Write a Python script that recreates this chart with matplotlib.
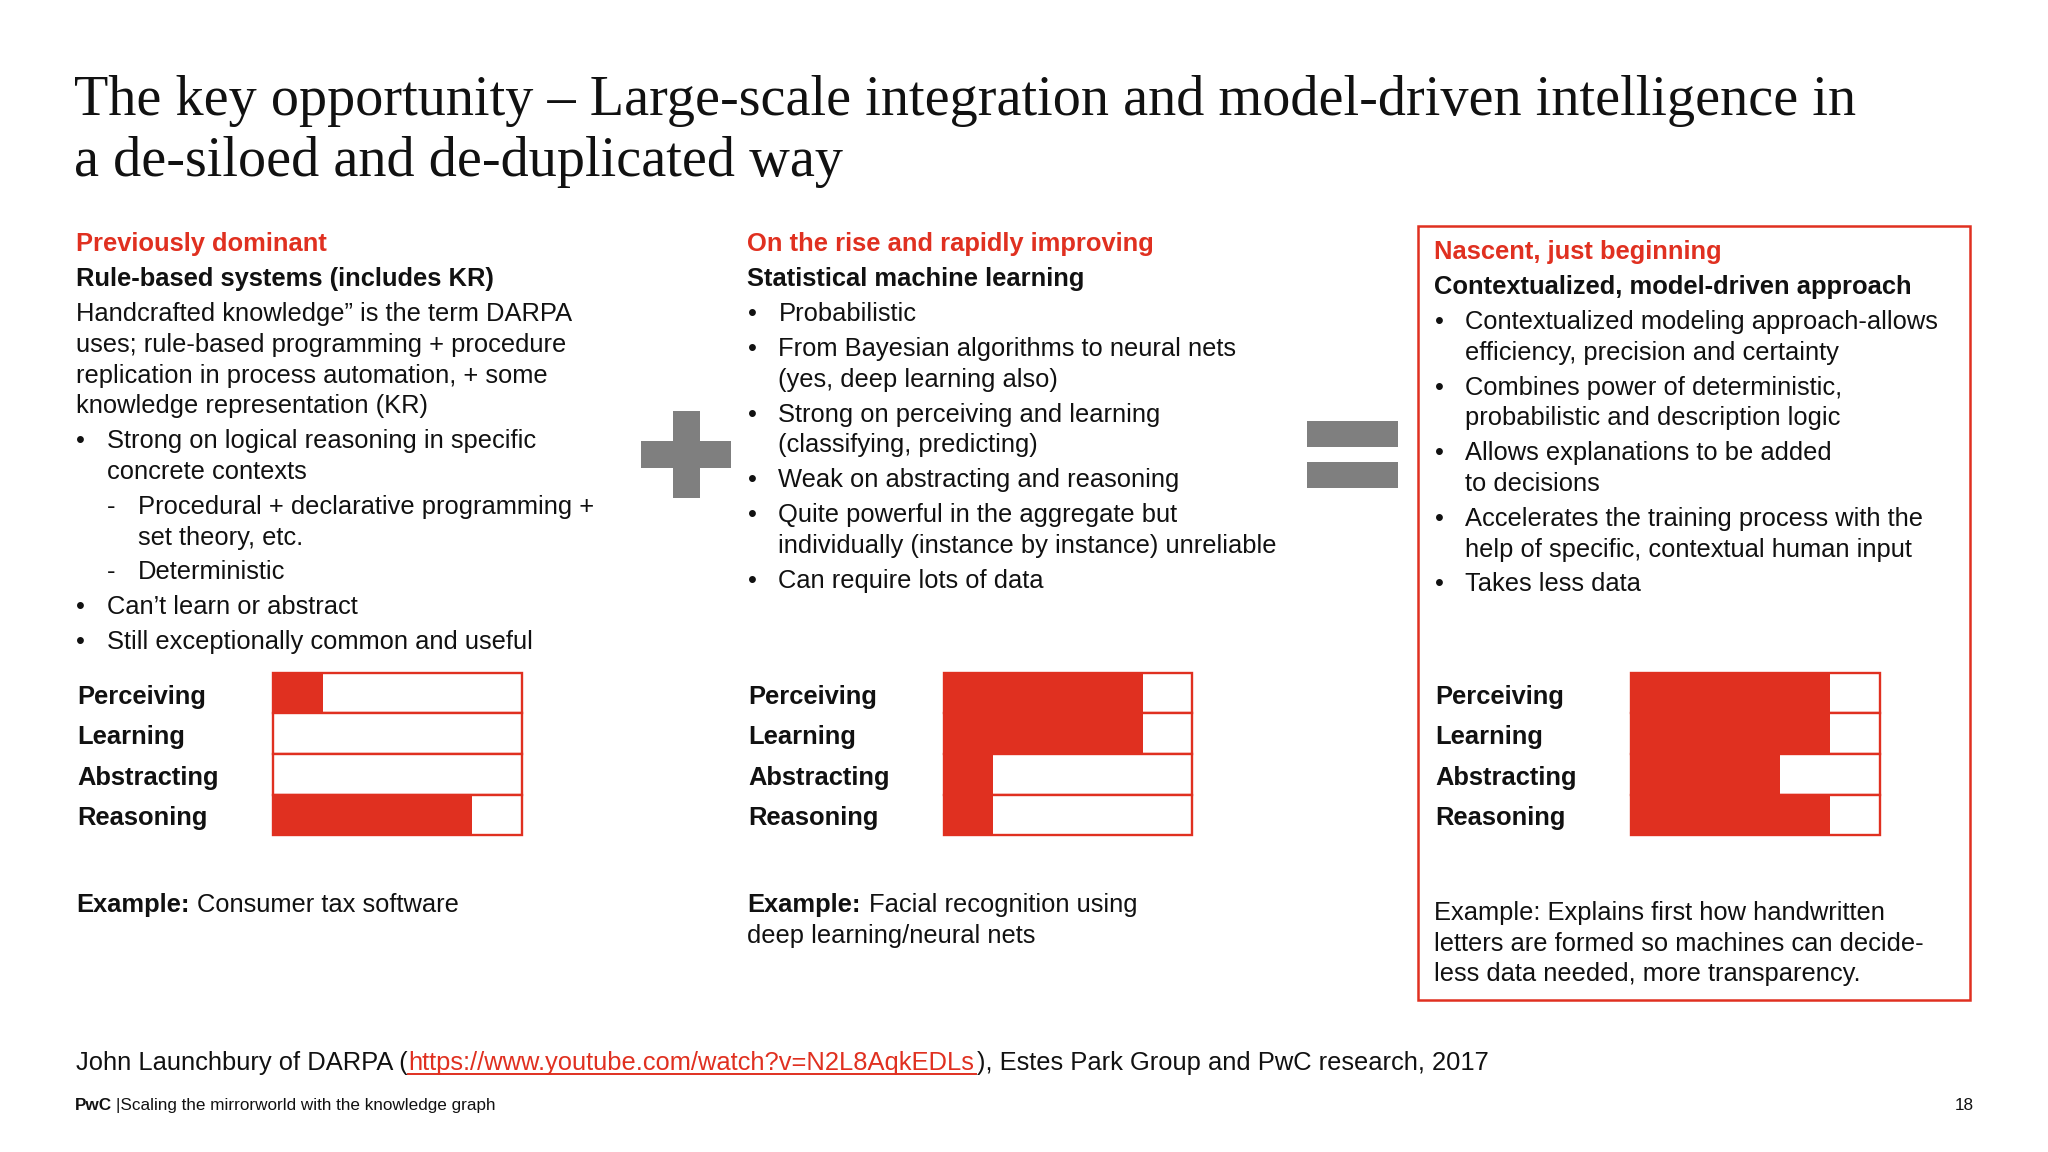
# PwC slide: three approaches to AI with progress bars
import matplotlib.pyplot as plt
from matplotlib.patches import Rectangle

RED = "#e03020"
GRAY = "#7f7f7f"
DARK = "#111111"

title_lines = ["The key opportunity – Large-scale integration and model-driven intelligence in",
               "a de-siloed and de-duplicated way"]

categories = ["Perceiving", "Learning", "Abstracting", "Reasoning"]
fill_rule = [0.2, 0.0, 0.0, 0.8]
fill_stat = [0.8, 0.8, 0.2, 0.2]
fill_model = [0.8, 0.8, 0.6, 0.8]

heads = ["Previously dominant", "On the rise and rapidly improving", "Nascent, just beginning"]
subs = ["Rule-based systems (includes KR)", "Statistical machine learning",
        "Contextualized, model-driven approach"]

# level: 0 plain, 1 bullet, 2 dash, 3 continuation of bullet, 4 continuation of dash
body_rule = [(0, "Handcrafted knowledge” is the term DARPA"),
             (0, "uses; rule-based programming + procedure"),
             (0, "replication in process automation, + some"),
             (0, "knowledge representation (KR)"),
             (1, "Strong on logical reasoning in specific"),
             (3, "concrete contexts"),
             (2, "Procedural + declarative programming +"),
             (4, "set theory, etc."),
             (2, "Deterministic"),
             (1, "Can’t learn or abstract"),
             (1, "Still exceptionally common and useful")]
body_stat = [(1, "Probabilistic"),
             (1, "From Bayesian algorithms to neural nets"),
             (3, "(yes, deep learning also)"),
             (1, "Strong on perceiving and learning"),
             (3, "(classifying, predicting)"),
             (1, "Weak on abstracting and reasoning"),
             (1, "Quite powerful in the aggregate but"),
             (3, "individually (instance by instance) unreliable"),
             (1, "Can require lots of data")]
body_model = [(1, "Contextualized modeling approach-allows"),
              (3, "efficiency, precision and certainty"),
              (1, "Combines power of deterministic,"),
              (3, "probabilistic and description logic"),
              (1, "Allows explanations to be added"),
              (3, "to decisions"),
              (1, "Accelerates the training process with the"),
              (3, "help of specific, contextual human input"),
              (1, "Takes less data")]

plt.rcParams["font.family"] = ["Liberation Sans", "DejaVu Sans"]
fig = plt.figure(figsize=(20.48, 11.52), dpi=100, facecolor="white")

# overlay in the coordinates of the 1568 wide slide
W, H = 1568, 882
ax = fig.add_axes([0, 0, 1, 1])
ax.set_xlim(0, W)
ax.set_ylim(H, 0)
ax.axis("off")

BODY = 18.33


def txt(x, y, s, size=BODY, color=DARK, weight="normal", **kw):
    ax.text(x, y, s, fontsize=size, color=color, fontweight=weight, va="baseline", **kw)


def column(x, y, head, sub, body):
    txt(x, y, head, color=RED, weight="bold")
    y += 27
    txt(x, y, sub, weight="bold")
    y += 27
    prev = None
    for level, line in body:
        if prev is not None:
            y += 23.5 if level >= 3 else 26.7
            if level == 0 and prev == 0:
                y -= 3.2
        if level == 1:
            txt(x + 0.5, y, "•")
            txt(x + 24, y, line)
        elif level == 2:
            txt(x + 24, y, "-")
            txt(x + 47.5, y, line)
        elif level == 3:
            txt(x + 24, y, line)
        elif level == 4:
            txt(x + 47.5, y, line)
        else:
            txt(x, y, line)
        prev = level


def bars(x, y, fills):
    # one small axes per panel, value 1.0 is the full box
    w, h = 190.5, 124.5
    a = fig.add_axes([x / W, 1 - (y + h) / H, w / W, h / H])
    pos = list(range(len(fills)))
    a.barh(pos, [1.0] * len(fills), height=1.0, facecolor="white", edgecolor=RED, linewidth=1.7, clip_on=False)
    a.barh(pos, fills, height=1.0, color=RED, linewidth=0)
    a.set_xlim(0, 1)
    a.set_ylim(len(fills) - 0.5, -0.5)
    a.axis("off")
    for i, c in enumerate(categories):
        ax.text(x - 149.5, y + 24 + 31 * i, c, fontsize=BODY, fontweight="bold", color=DARK, va="baseline")


# title
ax.text(57, 88, title_lines[0], fontsize=40.5, family="Liberation Serif", color=DARK, va="baseline")
ax.text(57, 135, title_lines[1], fontsize=40.5, family="Liberation Serif", color=DARK, va="baseline")

column(58, 192, heads[0], subs[0], body_rule)
column(572, 192, heads[1], subs[1], body_stat)
column(1098, 198, heads[2], subs[2], body_model)

bars(209, 515, fill_rule)
bars(722.5, 515, fill_stat)
bars(1248.5, 515, fill_model)

# plus and equals
ax.add_patch(Rectangle((491, 338), 69, 20, color=GRAY, lw=0))
ax.add_patch(Rectangle((515, 315), 21, 66, color=GRAY, lw=0))
ax.add_patch(Rectangle((1001, 322), 69, 20, color=GRAY, lw=0))
ax.add_patch(Rectangle((1001, 354), 69, 20, color=GRAY, lw=0))

# red box round the third column
ax.add_patch(Rectangle((1086, 173), 422, 593, facecolor="none", edgecolor=RED, lw=1.8))

# examples
txt(58, 698, "Example:", weight="bold")
txt(151, 698, "Consumer tax software")
txt(572, 698, "Example:", weight="bold")
txt(665, 698, "Facial recognition using")
txt(572, 722, "deep learning/neural nets")
txt(1098, 704, "Example: Explains first how handwritten")
txt(1098, 728, "letters are formed so machines can decide-")
txt(1098, 751, "less data needed, more transparency.")

# source line
txt(58, 819, "John Launchbury of DARPA (")
txt(312.5, 819, "https://www.youtube.com/watch?v=N2L8AqkEDLs", color=RED)
ax.plot([312.5, 747], [822, 822], color=RED, lw=1.4)
txt(748, 819, "), Estes Park Group and PwC research, 2017")

# footer
txt(57, 850, "PwC", size=12.3, weight="bold")
txt(89, 850, "|Scaling the mirrorworld with the knowledge graph", size=12.3)
txt(1511, 850, "18", size=12.3, ha="right")

plt.savefig("out.png", dpi=100)
